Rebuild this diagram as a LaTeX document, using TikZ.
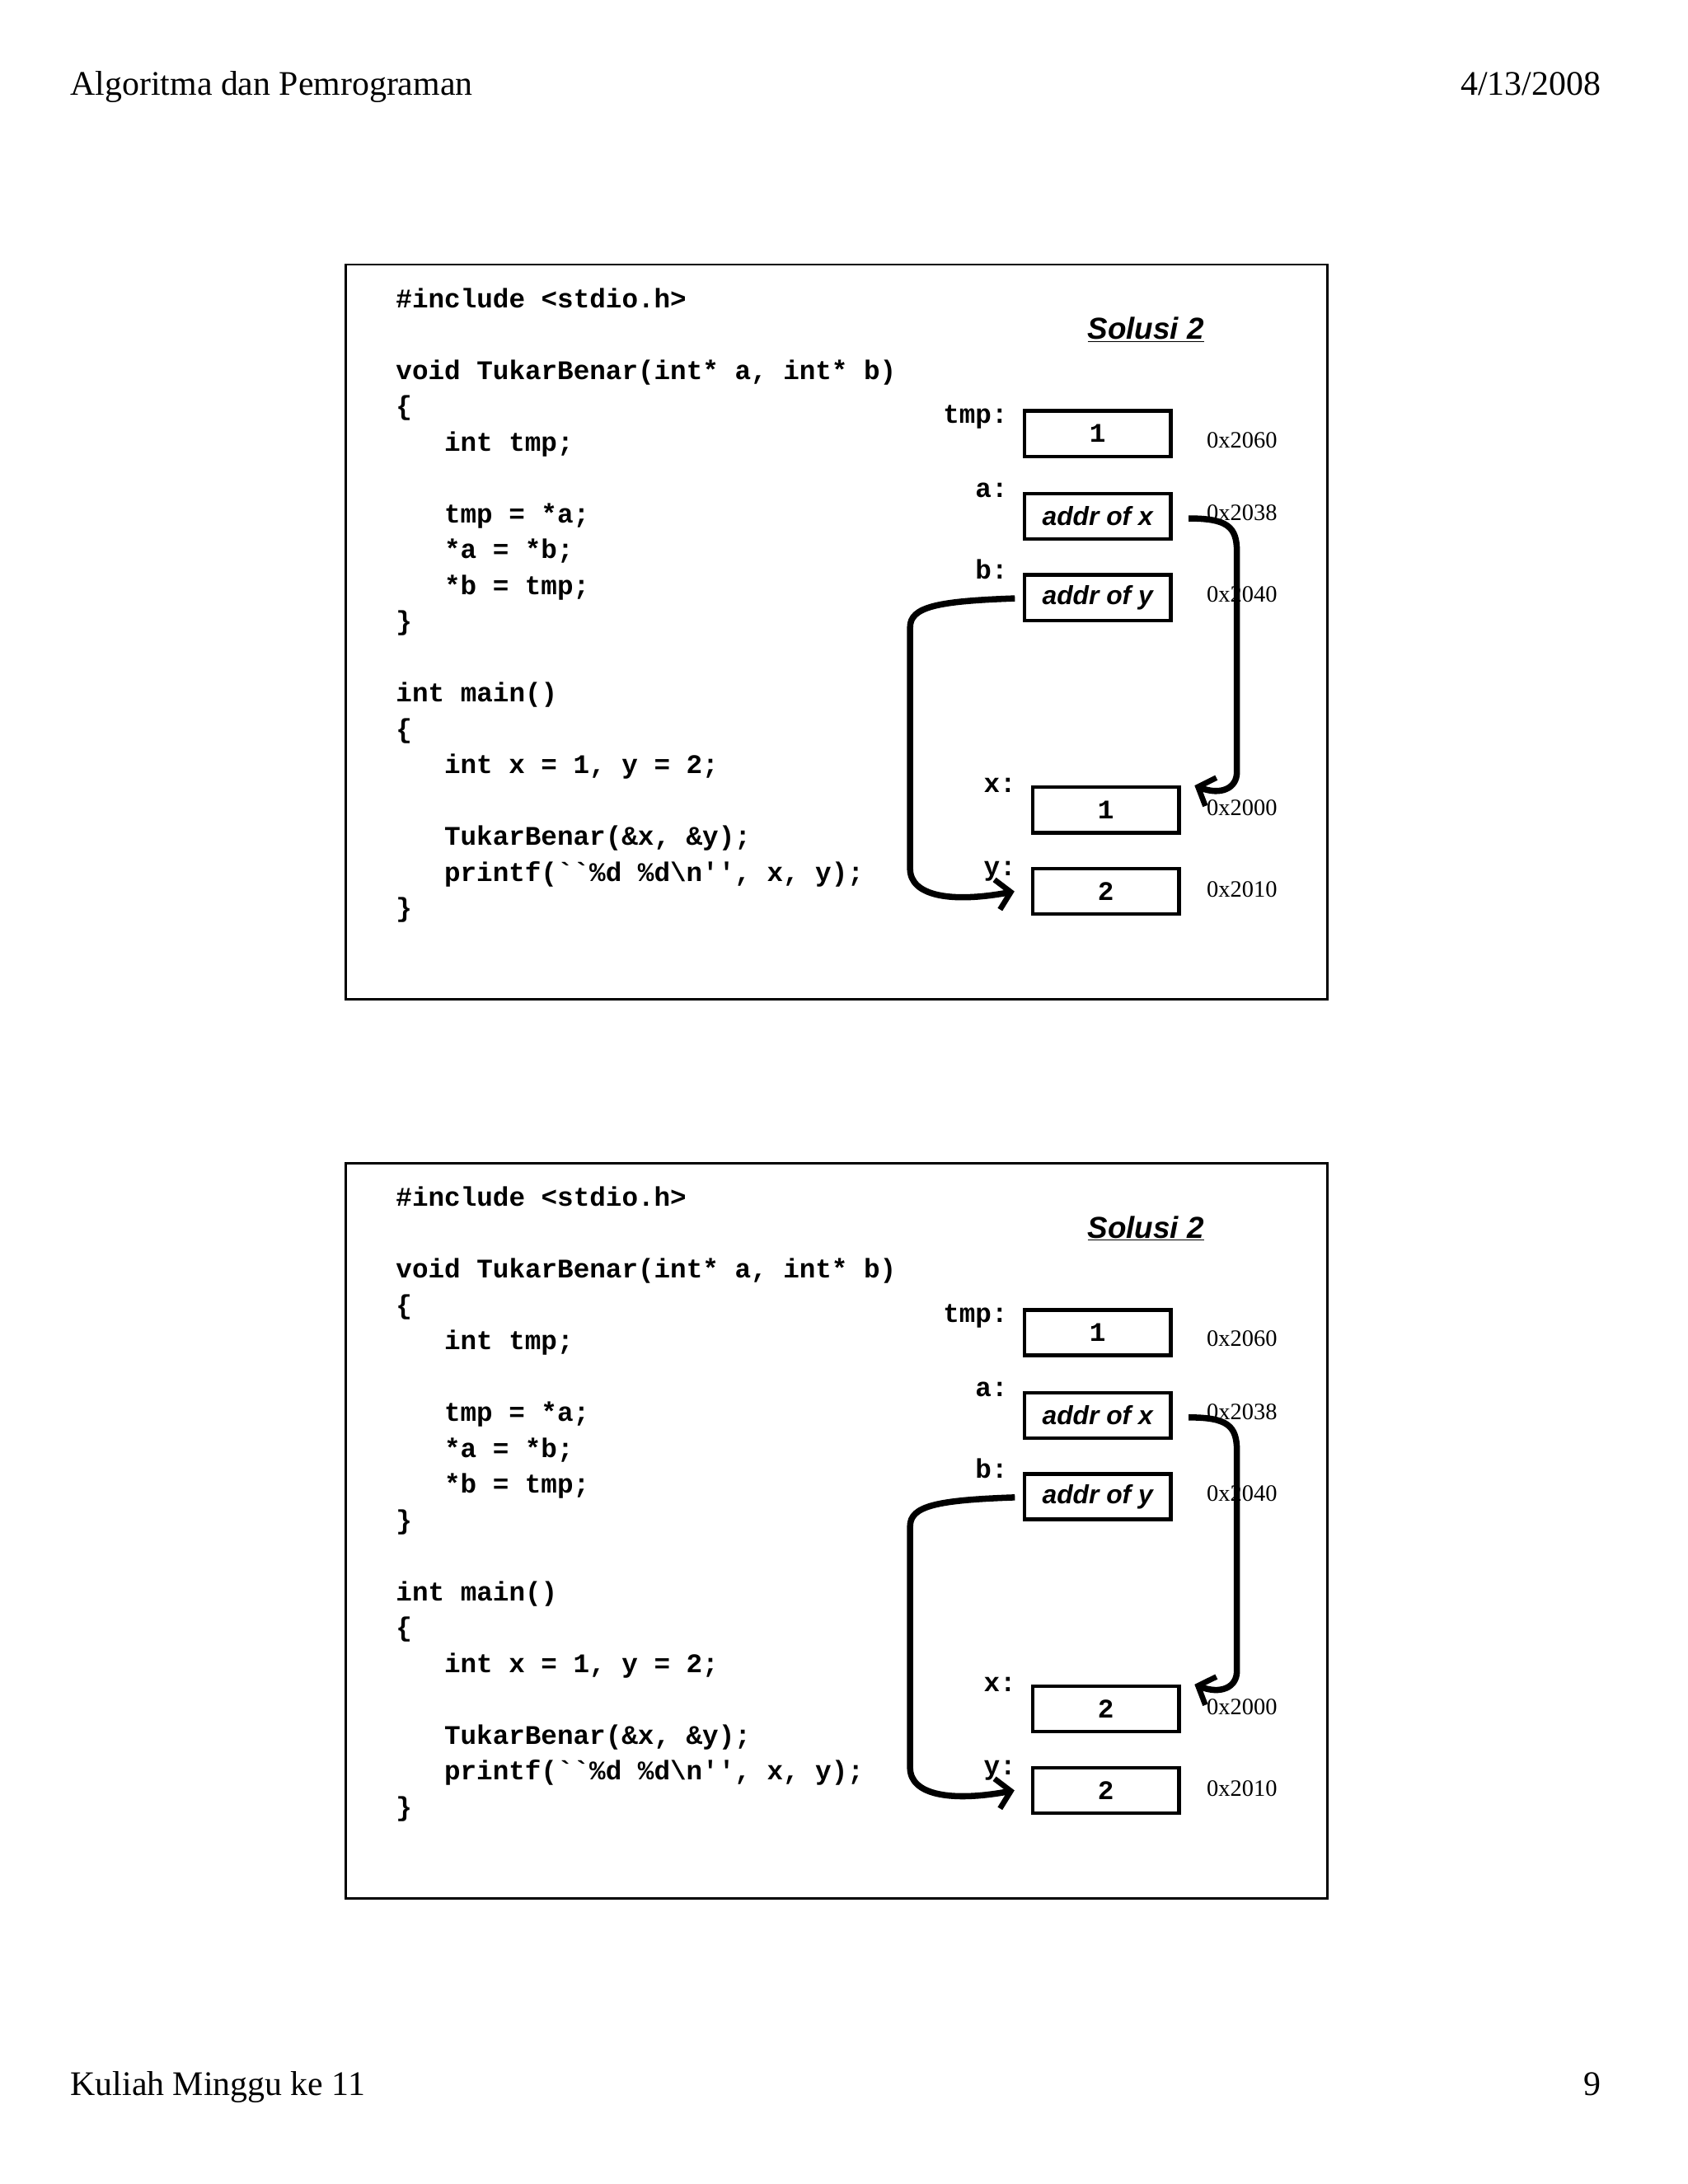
\documentclass[tikz,border=0pt]{standalone}
\usepackage{fontspec}
\setmainfont{Liberation Serif}
\newfontfamily\codef{Liberation Mono}
\newfontfamily\sansf{Liberation Sans}
\usetikzlibrary{arrows.meta}
\begin{document}
\begin{tikzpicture}[x=1pt,y=-1pt,
  hdr/.style={font=\fontsize{25}{30}\selectfont},
  code/.style={font=\codef\bfseries\fontsize{19.5}{22}\selectfont,anchor=base west,inner sep=0},
  lbl/.style={font=\codef\bfseries\fontsize{19.5}{22}\selectfont,anchor=base east,inner sep=0},
  cell/.style={draw,line width=2.6pt,minimum width=106pt,minimum height=33pt,inner sep=0,font=\codef\bfseries\fontsize{19.5}{22}\selectfont},
  acell/.style={cell,font=\sansf\bfseries\itshape\fontsize{19}{22}\selectfont},
  hex/.style={font=\fontsize{17}{20}\selectfont,anchor=west,inner sep=0},
  ptr/.style={line width=4.5pt,-{Straight Barb[length=10pt,width=22pt,line width=4pt]}}]
\useasboundingbox (0,0) rectangle (1224,1584);
\node[hdr,anchor=base west,inner sep=0] (h1) at (51,69) {Algoritma dan Pemrograman};
\node[hdr,anchor=base east,inner sep=0] (h2) at (1161,69) {4/13/2008};
\node[hdr,anchor=base west,inner sep=0] (f1) at (51,1520) {Kuliah Minggu ke 11};
\node[hdr,anchor=base east,inner sep=0] (f2) at (1161,1520) {9};
\foreach \o/\xv/\n in {0/1/p, 652/2/q}{
 \begin{scope}[yshift=-\o pt]
  \node[draw,line width=1.5pt,minimum width=712pt,minimum height=533pt,anchor=north west,inner sep=0] (\n frame) at (250,191) {};
  \foreach \i/\xx/\t in {0/287/{\#include <stdio.h>},2/287/{void TukarBenar(int* a, int* b)},3/287/\{,4/322/{int tmp;},
     6/322/{tmp = *a;},7/322/{*a = *b;},8/322/{*b = tmp;},9/287/\},11/287/{int main()},12/287/\{,
     13/322/{int x = 1, y = 2;},15/322/{TukarBenar(\&x, \&y);},16/322/{printf(``\%d \%d\textbackslash n'', x, y);},17/287/\}}
    \node[code] (\n c\i) at (\xx,{223+26*\i}) {\t};
  \node[font=\sansf\bfseries\itshape\fontsize{22}{26}\selectfont] (\n sol) at (831,239) {\underline{Solusi 2}};
  \node[cell] (\n tmp) at (796,314.5) {1};
  \node[acell] (\n a) at (796,374.5) {addr of x};
  \node[acell] (\n b) at (796,433.5) {addr of y};
  \node[cell] (\n x) at (802,587.5) {\xv};
  \node[cell] (\n y) at (802,646.5) {2};
  \node[lbl] (\n lt) at (731,307) {tmp:};
  \node[lbl] (\n la) at (731,361) {a:};
  \node[lbl] (\n lb) at (731,420) {b:};
  \node[lbl] (\n lx) at (737,575) {x:};
  \node[lbl] (\n ly) at (737,635) {y:};
  \node[hex] (\n h1) at (875,319) {0x2060};
  \node[hex] (\n h2) at (875,372) {0x2038};
  \node[hex] (\n h3) at (875,431) {0x2040};
  \node[hex] (\n h4) at (875,586) {0x2000};
  \node[hex] (\n h5) at (875,645) {0x2010};
  \coordinate (\n as) at (862,376);
  \coordinate (\n bs) at (736,434);
  \draw[ptr] (\n as) .. controls (890,376) and (897,382) .. (897,400) -- (897,560)
     .. controls (897,572) and (885,577) .. ([xshift=10pt]\n x.north east);
  \draw[ptr] (\n bs) .. controls (680,436) and (660,440) .. (660,455) -- (660,630)
     .. controls (660,650) and (690,655) .. ([xshift=-12pt]\n y.west);
 \end{scope}}
\end{tikzpicture}
\end{document}
